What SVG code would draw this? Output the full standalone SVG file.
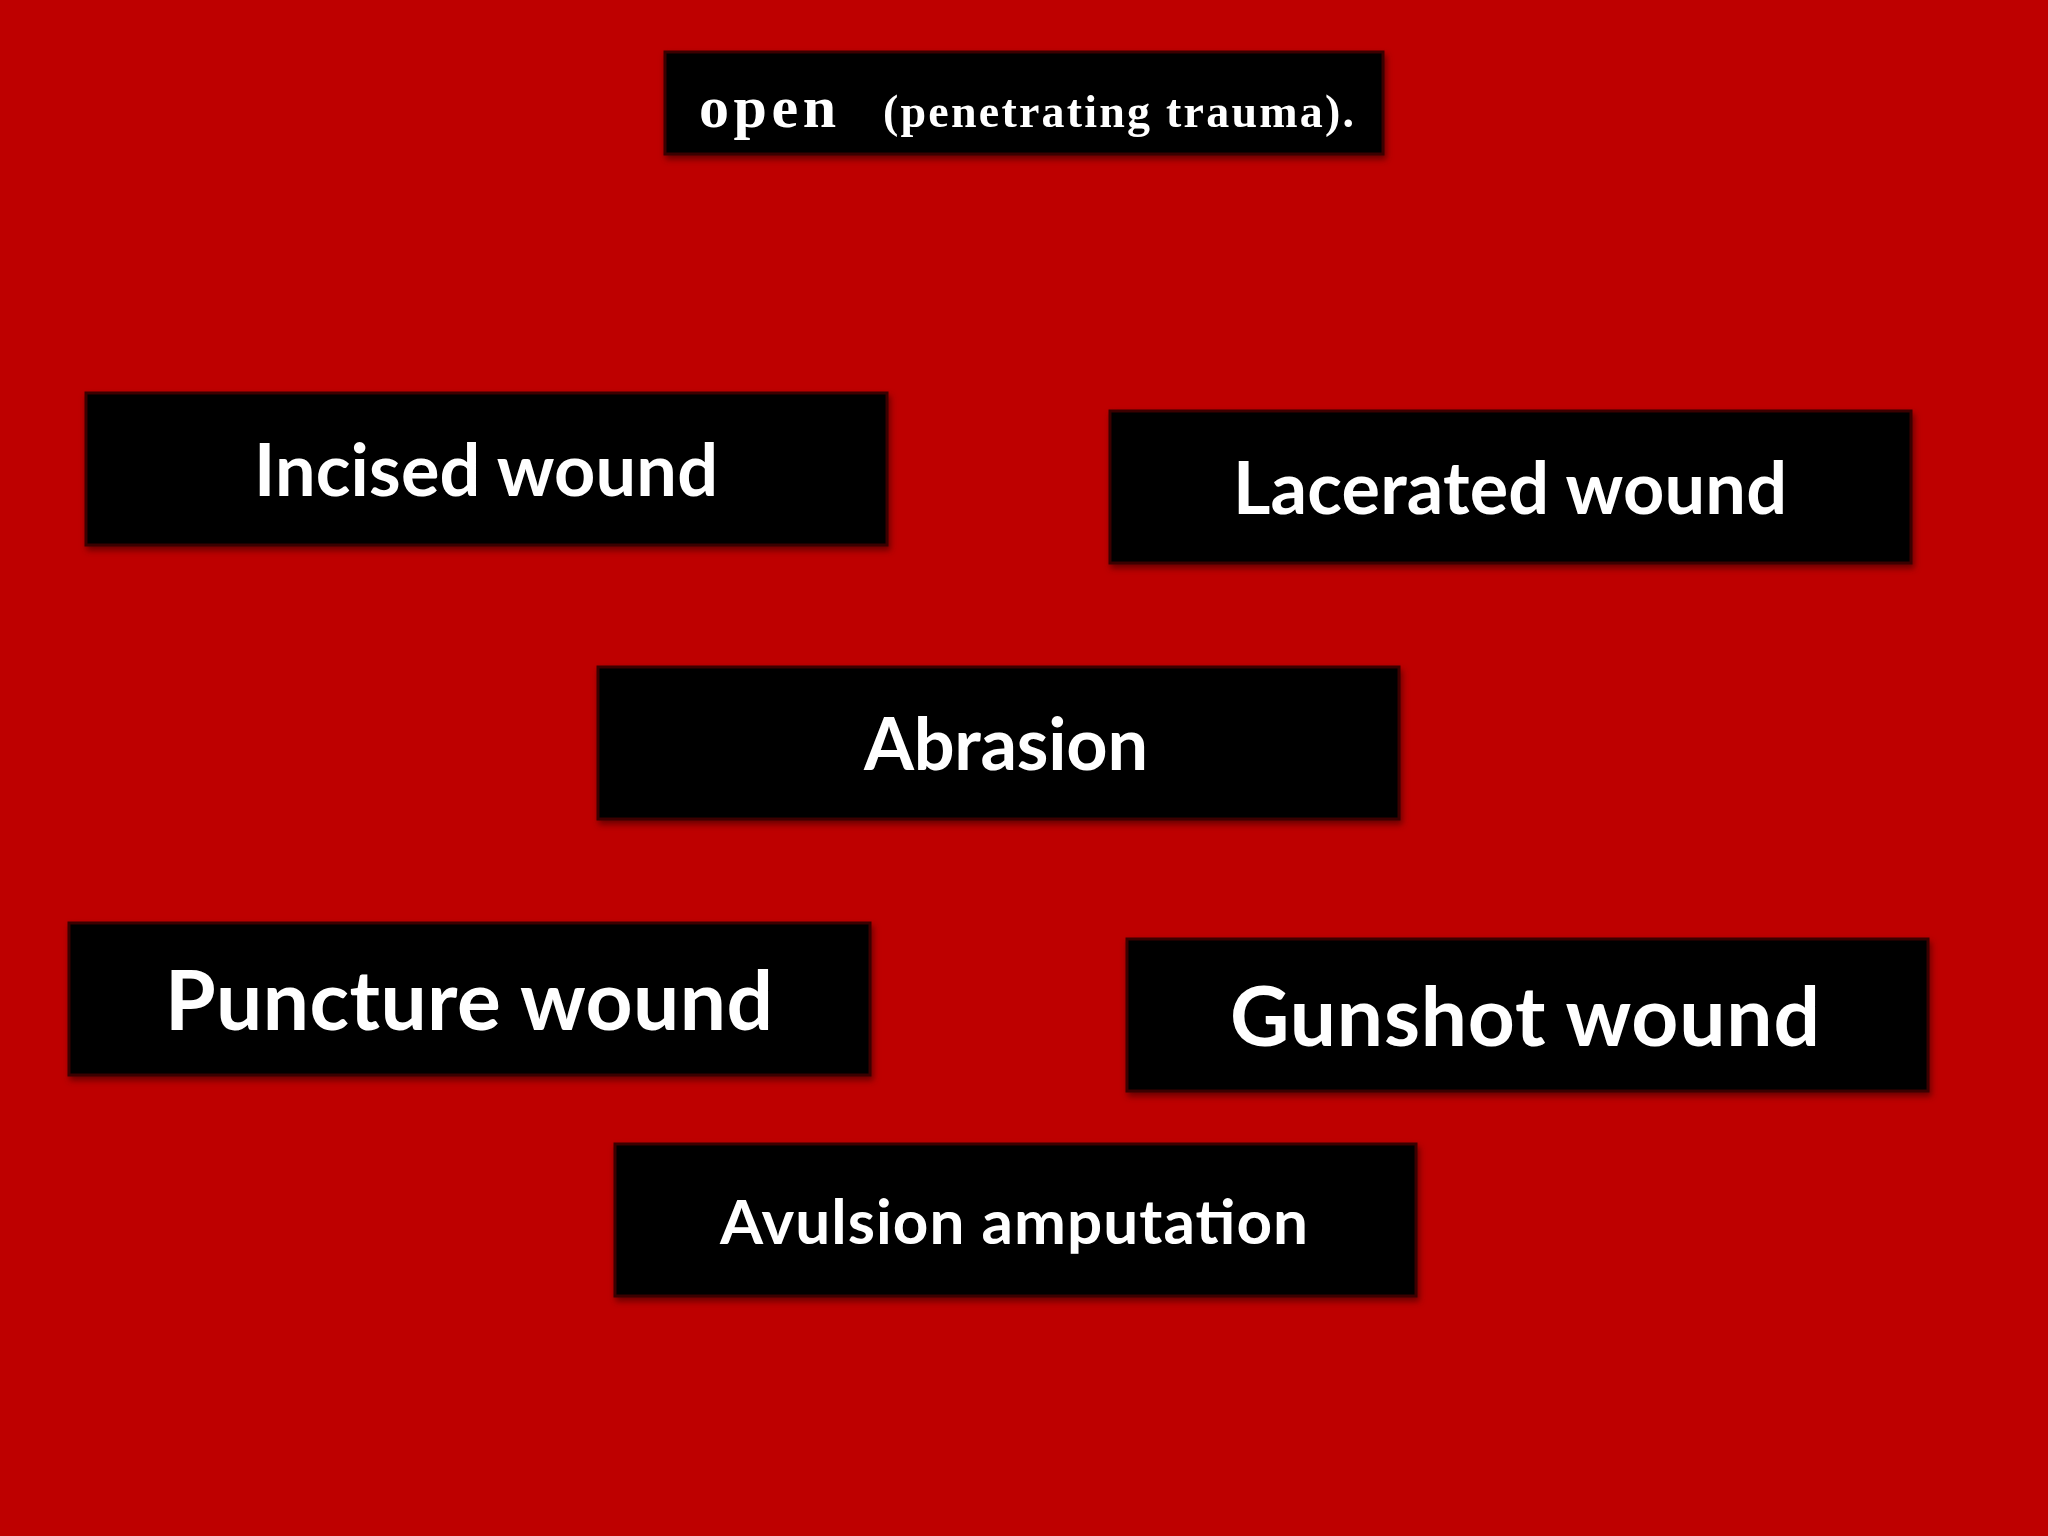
<svg xmlns="http://www.w3.org/2000/svg" width="2048" height="1536" viewBox="0 0 2048 1536">
<style>
.box{fill:#000;stroke:#3a0000;stroke-width:3}
.t{fill:#fff;font-family:Lato,"Open Sans",sans-serif;font-weight:bold;text-anchor:middle}
.s{fill:#fff;font-family:"Liberation Serif",serif;font-weight:bold}
</style>
<defs><filter id="sh" x="-5%" y="-10%" width="110%" height="130%"><feDropShadow dx="2" dy="4" stdDeviation="3" flood-color="#400" flood-opacity="0.7"/></filter></defs>
<rect width="2048" height="1536" fill="#BE0000"/>
<g id="title" filter="url(#sh)"><rect class="box" x="665" y="52" width="718" height="102"/>
<text class="s" x="699" y="127" font-size="60" textLength="137">open</text><text class="s" x="883" y="127" font-size="46" textLength="471">(penetrating trauma).</text></g>
<g id="incised" filter="url(#sh)"><rect class="box" x="86" y="393" width="801" height="152"/><text class="t" x="486" y="496" font-size="72" textLength="464">Incised wound</text></g>
<g id="lacerated" filter="url(#sh)"><rect class="box" x="1110" y="411" width="801" height="152"/><text class="t" x="1510" y="514" font-size="72" textLength="554">Lacerated wound</text></g>
<g id="abrasion" filter="url(#sh)"><rect class="box" x="598" y="667" width="801" height="152"/><text class="t" x="1006" y="770" font-size="72" textLength="284">Abrasion</text></g>
<g id="puncture" filter="url(#sh)"><rect class="box" x="69" y="923" width="801" height="152"/><text class="t" x="469" y="1030" font-size="82" textLength="608">Puncture wound</text></g>
<g id="gunshot" filter="url(#sh)"><rect class="box" x="1127" y="939" width="801" height="152"/><text class="t" x="1525" y="1046" font-size="82" textLength="590">Gunshot wound</text></g>
<g id="avulsion" filter="url(#sh)"><rect class="box" x="615" y="1144" width="801" height="152"/><text class="t" x="1014" y="1244" font-size="62" textLength="588">Avulsion  amputation</text></g>
<g id="connectors"/>
</svg>
